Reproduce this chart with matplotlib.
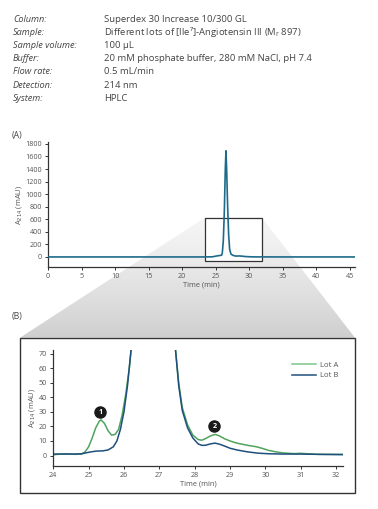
import matplotlib
matplotlib.use("Agg")
import matplotlib.pyplot as plt
from matplotlib.patches import Polygon, Rectangle
import numpy as np

plt.rcParams['font.family'] = ['Open Sans', 'DejaVu Sans']

# run conditions
cond_keys = ["Column:", "Sample:", "Sample volume:", "Buffer:", "Flow rate:", "Detection:", "System:"]
cond_vals = ["Superdex 30 Increase 10/300 GL",
             "Different lots of [Ile\u2077]-Angiotensin III (M$_\\mathregular{r}$ 897)",
             "100 \u00b5L",
             "20 mM phosphate buffer, 280 mM NaCl, pH 7.4",
             "0.5 mL/min",
             "214 nm",
             "HPLC"]

# (A) full chromatogram
full_t = [0, 10, 20, 23, 24.5, 25.3, 25.9, 26.0, 26.15, 26.3, 26.45, 26.55, 26.65, 26.8, 26.95, 27.1, 27.3,
          27.6, 28.0, 28.6, 29.5, 30.5, 35, 40, 45.8]
full_a = [0, 0, 0, 0, 2, 18, 28, 60, 250, 700, 1400, 1690, 1400, 800, 350, 120, 45,
          25, 14, 16, 6, 1, 0, 0, 0]

# (B) zoom, lot A and lot B
lotA_t = [24.0, 24.2, 24.4, 24.6, 24.8, 24.9, 25.0, 25.1, 25.2, 25.3, 25.35, 25.45, 25.55, 25.65, 25.75, 25.85,
          25.95, 26.05, 26.15, 26.25, 26.35, 27.35, 27.45, 27.55, 27.65, 27.8, 27.95, 28.1, 28.2, 28.3, 28.45,
          28.58, 28.7, 28.85, 29.0, 29.2, 29.5, 29.75, 29.9, 30.1, 30.3, 30.5, 30.8, 31.0, 31.2, 31.5, 32.2]
lotA_a = [0.5, 1.0, 1.2, 0.8, 1.0, 2.5, 6, 12, 19, 23.5, 24.5, 22, 17, 14, 14.5, 18,
          28, 42, 60, 85, 130, 130, 75, 50, 33, 21, 14, 11, 10.5, 11.5, 13.5,
          14.5, 13.5, 11.5, 10, 8.5, 7, 6, 5, 3.5, 2.5, 1.8, 1.3, 1.5, 1.2, 0.8, 0.8]
lotB_t = [24.0, 24.3, 24.6, 24.8, 25.0, 25.2, 25.4, 25.55, 25.7, 25.8, 25.9, 26.0, 26.1, 26.2, 26.3, 27.35,
          27.45, 27.55, 27.65, 27.8, 27.95, 28.1, 28.2, 28.3, 28.45, 28.58, 28.7, 28.85, 29.0, 29.2, 29.5,
          29.8, 30.1, 30.5, 31.0, 31.5, 32.2]
lotB_a = [1.0, 1.0, 1.0, 1.2, 2.2, 3.0, 3.2, 3.8, 6, 10, 18, 30, 48, 72, 105, 130,
          75, 48, 31, 19, 12, 8, 7, 7, 8, 8.5, 7.8, 6.5, 5, 3.8, 2.5,
          1.6, 1.2, 1.0, 1.0, 0.8, 0.6]

GREEN = "#4fa35e"
BLUE = "#1f4f7d"
TEAL = "#1e6a8a"
TXT = "#555555"

W, H = 378, 509
fig = plt.figure(figsize=(W / 100, H / 100), dpi=100)

bg = fig.add_axes([0, 0, 1, 1], zorder=0)
bg.set_xlim(0, W)
bg.set_ylim(0, H)
bg.axis('off')

# header
for i, (k, v) in enumerate(zip(cond_keys, cond_vals)):
    y = H - 19 - i * 13.2
    bg.text(13, y, k, fontsize=6.6, style='italic', color="#444444", va='center')
    bg.text(104, y, v, fontsize=6.8, color="#444444", va='center')

bg.text(12, H - 135, "(A)", fontsize=6.2, color="#444444", va='center')
bg.text(12, H - 316, "(B)", fontsize=6.2, color="#444444", va='center')

def style_axes(ax):
    for s in ['top', 'right']:
        ax.spines[s].set_visible(False)
    for s in ['left', 'bottom']:
        ax.spines[s].set_color('#333333')
        ax.spines[s].set_linewidth(0.9)
    ax.tick_params(labelsize=5.2, colors='#333333', labelcolor=TXT, length=2.5, width=0.7, pad=2)
    ax.patch.set_alpha(0)

# (A)
axA = fig.add_axes([48 / W, 1 - 267 / H, (355 - 48) / W, (267 - 142) / H], zorder=2)
axA.plot(full_t, full_a, color=TEAL, lw=1.2)
axA.set_xlim(0, 45.8)
axA.set_ylim(-160, 1830)
axA.set_xticks(np.arange(0, 46, 5))
axA.set_yticks(np.arange(0, 1801, 200))
style_axes(axA)
axA.set_xlabel("Time (min)", fontsize=5.4, color=TXT, labelpad=1)
axA.set_ylabel("A$_{214}$ (mAU)", fontsize=5.4, color=TXT, labelpad=1)

rx0, rx1, ry0, ry1 = 23.4, 31.9, -72, 625
axA.add_patch(Rectangle((rx0, ry0), rx1 - rx0, ry1 - ry0, facecolor='white', edgecolor='#333333', lw=0.9, zorder=1))
axA.lines[0].set_zorder(3)

# (B)
bx0, by0, bx1, by1 = 20, H - 492.7, 355, H - 337.7
bg.add_patch(Rectangle((bx0, by0), bx1 - bx0, by1 - by0, facecolor='white', edgecolor='#333333', lw=1.0, zorder=3))

axB = fig.add_axes([53.3 / W, 1 - 465.7 / H, (343 - 53.3) / W, (465.7 - 350) / H], zorder=3)
axB.plot(lotA_t, lotA_a, color=GREEN, lw=1.1, label="Lot A")
axB.plot(lotB_t, lotB_a, color=BLUE, lw=1.1, label="Lot B")
axB.set_xlim(24, 32.2)
axB.set_ylim(-7, 72.5)
axB.set_xticks(np.arange(24, 33, 1))
axB.set_yticks(np.arange(0, 71, 10))
style_axes(axB)
axB.set_xlabel("Time (min)", fontsize=5.4, color=TXT, labelpad=1)
axB.set_ylabel("A$_{214}$ (mAU)", fontsize=5.4, color=TXT, labelpad=1)
leg = axB.legend(loc='upper right', bbox_to_anchor=(1.01, 0.96), frameon=False, fontsize=5.6,
                 handlelength=3.0, labelspacing=0.35, handletextpad=0.6)
leg.get_lines()[0].set_color("#7cc48a")
for t in leg.get_texts():
    t.set_color(TXT)

for (x, y, lab) in [(25.33, 30, "1"), (28.56, 20.3, "2")]:
    axB.plot([x], [y], 'o', ms=8, color='#1a1a1a', zorder=5)
    axB.text(x, y - 0.3, lab, color='white', fontsize=5.2, fontweight='bold', ha='center', va='center', zorder=6)

# gray wedge from the zoom box down to panel B
fig.canvas.draw()
p_tl = axA.transData.transform((rx0, ry1))
p_tr = axA.transData.transform((rx1, ry1))
poly = Polygon([p_tl, p_tr, (bx1, by1), (bx0, by1)], closed=True, facecolor='none', edgecolor='none')
bg.add_patch(poly)
grad = np.linspace(0, 1, 256).reshape(-1, 1)
img = bg.imshow(grad, cmap='Greys', vmin=-0.35, vmax=4.2, extent=(0, W, by1, p_tl[1]),
                origin='upper', aspect='auto', zorder=1)
img.set_clip_path(poly)
bg.set_xlim(0, W)
bg.set_ylim(0, H)

fig.savefig("out.png", dpi=100)
